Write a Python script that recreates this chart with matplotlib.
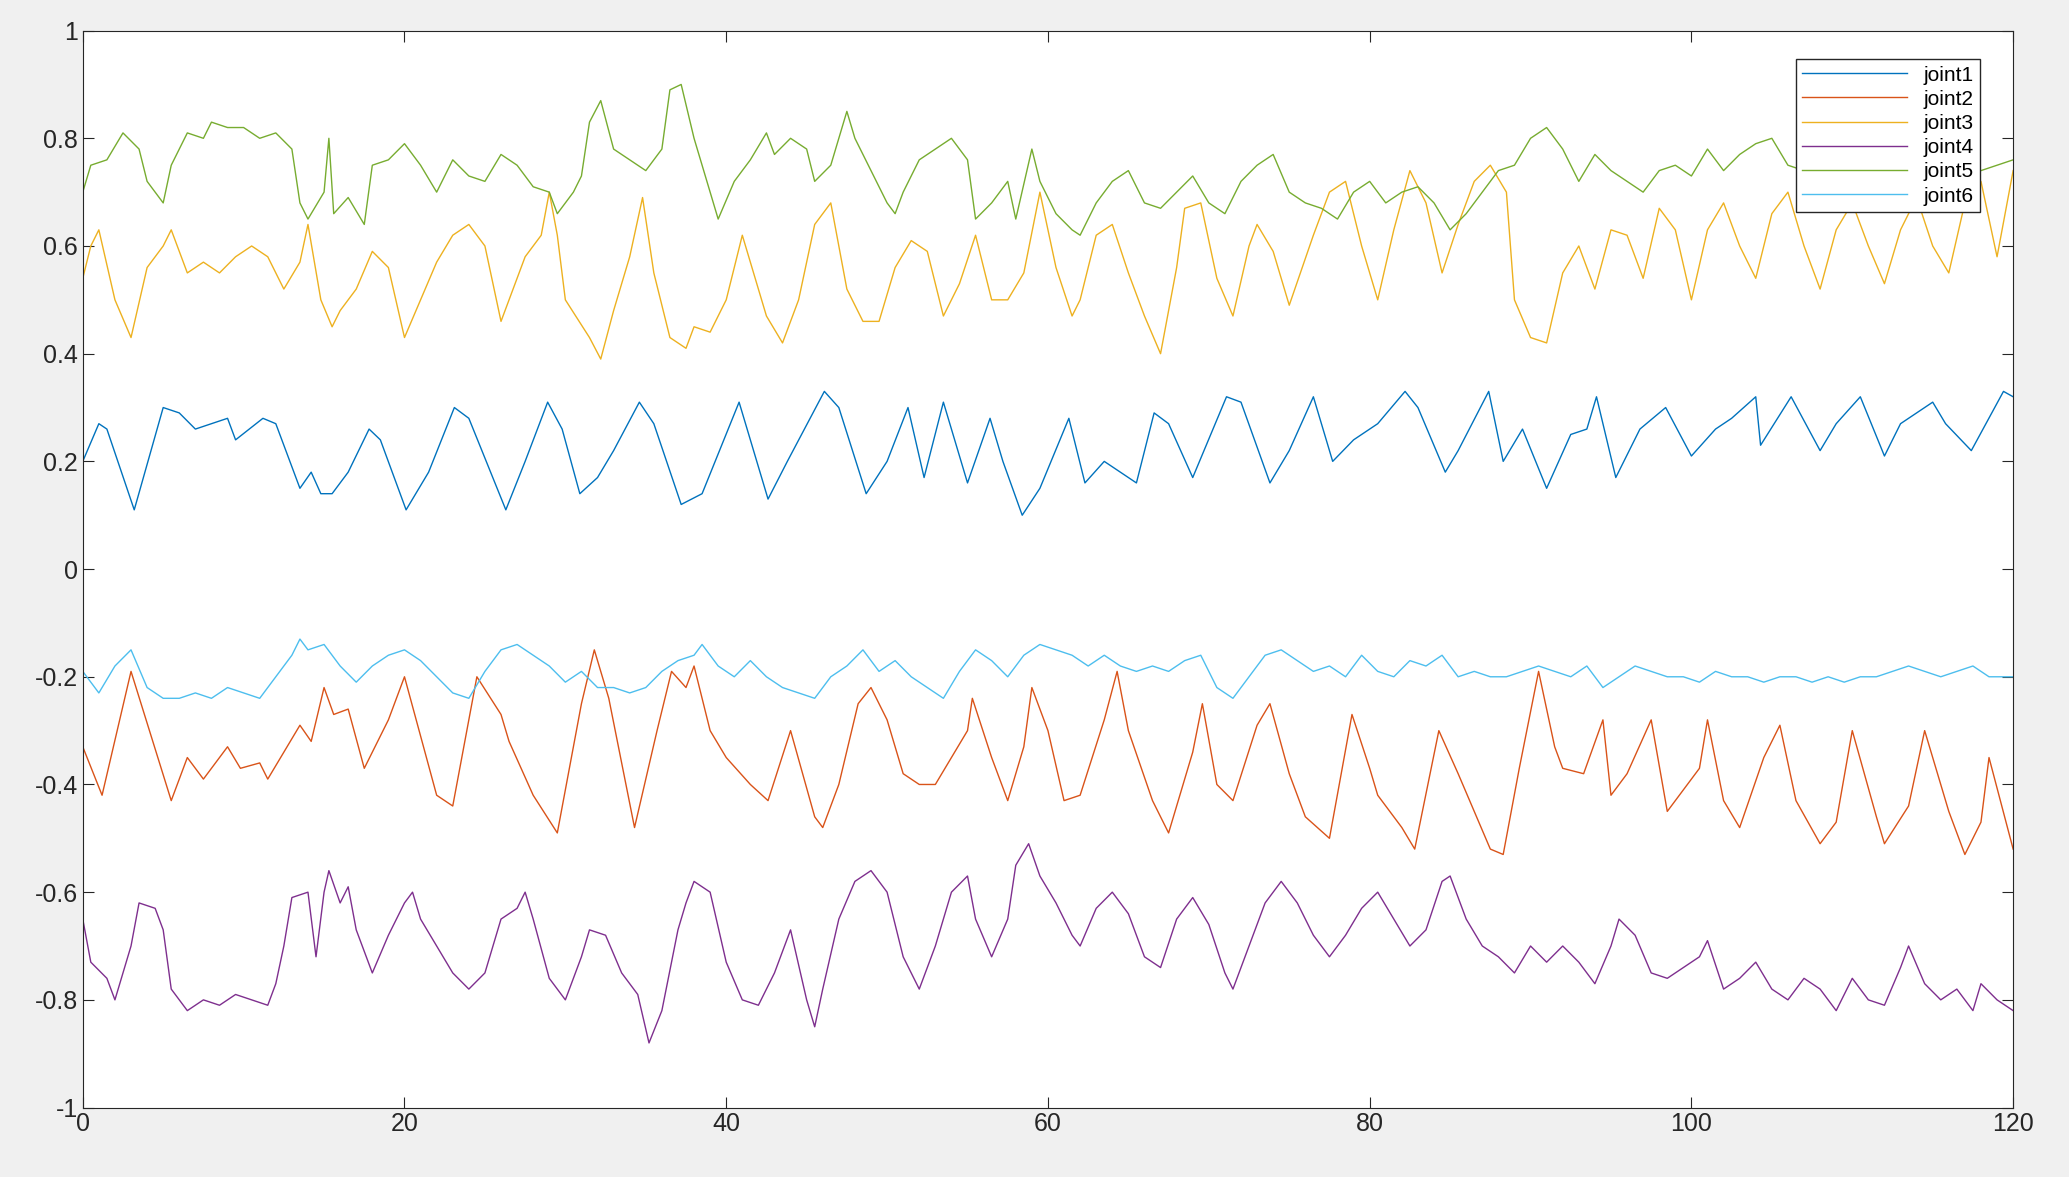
import matplotlib
matplotlib.use("Agg")
import matplotlib.pyplot as plt

plt.rcParams['font.family'] = ['Liberation Sans', 'DejaVu Sans']

j1 = [(0,0.2),(1,0.27),(1.5,0.26),(3.2,0.11),(5,0.3),(6,0.29),(7,0.26),(8,0.27),(9,0.28),(9.5,0.24),(11.2,0.28),(12,0.27),(13.5,0.15),(14.2,0.18),(14.8,0.14),(15.5,0.14),(16.5,0.18),(17.8,0.26),(18.5,0.24),(20.1,0.11),(21.5,0.18),(23.1,0.3),(24,0.28),(26.3,0.11),(27.5,0.2),(28.9,0.31),(29.8,0.26),(30.9,0.14),(32,0.17),(33,0.22),(34.6,0.31),(35.5,0.27),(37.2,0.12),(38.5,0.14),(40.8,0.31),(41.5,0.24),(42.6,0.13),(43.8,0.2),(46.1,0.33),(47,0.3),(48.7,0.14),(50,0.2),(51.3,0.3),(52.3,0.17),(53.5,0.31),(55,0.16),(56.4,0.28),(57.2,0.2),(58.4,0.10),(59.5,0.15),(61.3,0.28),(62.3,0.16),(63.5,0.2),(65.5,0.16),(66.6,0.29),(67.5,0.27),(69,0.17),(71.1,0.32),(72,0.31),(73.8,0.16),(75,0.22),(76.5,0.32),(77.7,0.2),(79,0.24),(80.5,0.27),(82.2,0.33),(83,0.3),(84.7,0.18),(85.5,0.22),(87.4,0.33),(88.3,0.2),(89.5,0.26),(91,0.15),(92.5,0.25),(93.5,0.26),(94.1,0.32),(95.3,0.17),(96.8,0.26),(98.4,0.3),(100,0.21),(101.5,0.26),(102.5,0.28),(104,0.32),(104.3,0.23),(106.2,0.32),(108,0.22),(109,0.27),(110.5,0.32),(112,0.21),(113,0.27),(115,0.31),(115.8,0.27),(117.4,0.22),(119.4,0.33),(120,0.32)]
j2 = [(0,-0.33),(1.2,-0.42),(3,-0.19),(5.5,-0.43),(6.5,-0.35),(7.5,-0.39),(9,-0.33),(9.8,-0.37),(11,-0.36),(11.5,-0.39),(13.5,-0.29),(14.2,-0.32),(15,-0.22),(15.6,-0.27),(16.5,-0.26),(17.5,-0.37),(19,-0.28),(20,-0.2),(22,-0.42),(23,-0.44),(24.5,-0.2),(26,-0.27),(26.5,-0.32),(28,-0.42),(29.5,-0.49),(31,-0.25),(31.8,-0.15),(32.7,-0.24),(34.3,-0.48),(35.7,-0.3),(36.6,-0.19),(37.5,-0.22),(38,-0.18),(39,-0.3),(40,-0.35),(41.5,-0.4),(42.6,-0.43),(44,-0.3),(45.5,-0.46),(46,-0.48),(47,-0.4),(48.2,-0.25),(49,-0.22),(50,-0.28),(51,-0.38),(52,-0.4),(53,-0.4),(55,-0.3),(55.3,-0.24),(56.5,-0.35),(57.5,-0.43),(58.5,-0.33),(59,-0.22),(60,-0.3),(61,-0.43),(62,-0.42),(63.5,-0.28),(64.3,-0.19),(65,-0.3),(66.5,-0.43),(67.5,-0.49),(69,-0.34),(69.6,-0.25),(70.5,-0.4),(71.5,-0.43),(73,-0.29),(73.8,-0.25),(75,-0.38),(76,-0.46),(77.5,-0.5),(78.9,-0.27),(80,-0.37),(80.5,-0.42),(82,-0.48),(82.8,-0.52),(84.3,-0.3),(85.5,-0.38),(87.5,-0.52),(88.3,-0.53),(89.3,-0.37),(90.5,-0.19),(91.5,-0.33),(92,-0.37),(93.3,-0.38),(94.5,-0.28),(95,-0.42),(96,-0.38),(97.5,-0.28),(98.5,-0.45),(99,-0.43),(100.5,-0.37),(101,-0.28),(102,-0.43),(103,-0.48),(104.5,-0.35),(105.5,-0.29),(106.5,-0.43),(108,-0.51),(109,-0.47),(110,-0.3),(111.5,-0.46),(112,-0.51),(113.5,-0.44),(114.5,-0.3),(116,-0.45),(117,-0.53),(118,-0.47),(118.5,-0.35),(120,-0.52)]
j3 = [(0,0.54),(0.5,0.6),(1,0.63),(2,0.5),(3,0.43),(4,0.56),(5,0.6),(5.5,0.63),(6.5,0.55),(7.5,0.57),(8.5,0.55),(9.5,0.58),(10.5,0.6),(11.5,0.58),(12.5,0.52),(13.5,0.57),(14,0.64),(14.8,0.5),(15.5,0.45),(16,0.48),(17,0.52),(18,0.59),(19,0.56),(20,0.43),(21,0.5),(22,0.57),(23,0.62),(24,0.64),(25,0.6),(26,0.46),(27.5,0.58),(28.5,0.62),(29,0.7),(29.5,0.62),(30,0.5),(31.5,0.43),(32.2,0.39),(33,0.48),(34,0.58),(34.8,0.69),(35.5,0.55),(36.5,0.43),(37.5,0.41),(38,0.45),(39,0.44),(40,0.5),(41,0.62),(42.5,0.47),(43.5,0.42),(44.5,0.5),(45.5,0.64),(46.5,0.68),(47.5,0.52),(48.5,0.46),(49.5,0.46),(50.5,0.56),(51.5,0.61),(52.5,0.59),(53.5,0.47),(54.5,0.53),(55.5,0.62),(56.5,0.5),(57.5,0.5),(58.5,0.55),(59.5,0.7),(60.5,0.56),(61.5,0.47),(62,0.5),(63,0.62),(64,0.64),(65,0.55),(66,0.47),(67,0.4),(68,0.56),(68.5,0.67),(69.5,0.68),(70.5,0.54),(71.5,0.47),(72.5,0.6),(73,0.64),(74,0.59),(75,0.49),(76.5,0.62),(77.5,0.7),(78.5,0.72),(79.5,0.6),(80.5,0.5),(81.5,0.63),(82.5,0.74),(83.5,0.68),(84.5,0.55),(85.5,0.64),(86.5,0.72),(87.5,0.75),(88.5,0.7),(89,0.5),(90,0.43),(91,0.42),(92,0.55),(93,0.6),(94,0.52),(95,0.63),(96,0.62),(97,0.54),(98,0.67),(99,0.63),(100,0.5),(101,0.63),(102,0.68),(103,0.6),(104,0.54),(105,0.66),(106,0.7),(107,0.6),(108,0.52),(109,0.63),(110,0.68),(111,0.6),(112,0.53),(113,0.63),(114,0.69),(115,0.6),(116,0.55),(117,0.68),(118,0.72),(119,0.58),(120,0.74)]
j4 = [(0,-0.65),(0.5,-0.73),(1.5,-0.76),(2,-0.8),(3,-0.7),(3.5,-0.62),(4.5,-0.63),(5,-0.67),(5.5,-0.78),(6,-0.8),(6.5,-0.82),(7.5,-0.8),(8.5,-0.81),(9.5,-0.79),(10.5,-0.8),(11.5,-0.81),(12,-0.77),(12.5,-0.7),(13,-0.61),(14,-0.6),(14.5,-0.72),(15,-0.6),(15.3,-0.56),(16,-0.62),(16.5,-0.59),(17,-0.67),(18,-0.75),(19,-0.68),(20,-0.62),(20.5,-0.6),(21,-0.65),(22,-0.7),(23,-0.75),(24,-0.78),(25,-0.75),(26,-0.65),(27,-0.63),(27.5,-0.6),(28,-0.65),(29,-0.76),(30,-0.8),(31,-0.72),(31.5,-0.67),(32.5,-0.68),(33.5,-0.75),(34.5,-0.79),(35.2,-0.88),(36,-0.82),(37,-0.67),(37.5,-0.62),(38,-0.58),(39,-0.6),(40,-0.73),(41,-0.8),(42,-0.81),(43,-0.75),(44,-0.67),(45,-0.8),(45.5,-0.85),(46,-0.78),(47,-0.65),(48,-0.58),(49,-0.56),(50,-0.6),(51,-0.72),(52,-0.78),(53,-0.7),(54,-0.6),(55,-0.57),(55.5,-0.65),(56.5,-0.72),(57.5,-0.65),(58,-0.55),(58.8,-0.51),(59.5,-0.57),(60.5,-0.62),(61.5,-0.68),(62,-0.7),(63,-0.63),(64,-0.6),(65,-0.64),(66,-0.72),(67,-0.74),(68,-0.65),(69,-0.61),(70,-0.66),(71,-0.75),(71.5,-0.78),(72.5,-0.7),(73.5,-0.62),(74.5,-0.58),(75.5,-0.62),(76.5,-0.68),(77.5,-0.72),(78.5,-0.68),(79.5,-0.63),(80.5,-0.6),(81.5,-0.65),(82.5,-0.7),(83.5,-0.67),(84.5,-0.58),(85,-0.57),(86,-0.65),(87,-0.7),(88,-0.72),(89,-0.75),(90,-0.7),(91,-0.73),(92,-0.7),(93,-0.73),(94,-0.77),(95,-0.7),(95.5,-0.65),(96.5,-0.68),(97.5,-0.75),(98.5,-0.76),(99.5,-0.74),(100.5,-0.72),(101,-0.69),(102,-0.78),(103,-0.76),(104,-0.73),(105,-0.78),(106,-0.8),(107,-0.76),(108,-0.78),(109,-0.82),(110,-0.76),(111,-0.8),(112,-0.81),(113,-0.74),(113.5,-0.7),(114.5,-0.77),(115.5,-0.8),(116.5,-0.78),(117.5,-0.82),(118,-0.77),(119,-0.8),(120,-0.82)]
j5 = [(0,0.7),(0.5,0.75),(1.5,0.76),(2.5,0.81),(3.5,0.78),(4,0.72),(5,0.68),(5.5,0.75),(6.5,0.81),(7.5,0.8),(8,0.83),(9,0.82),(10,0.82),(11,0.8),(12,0.81),(13,0.78),(13.5,0.68),(14,0.65),(15,0.7),(15.3,0.8),(15.6,0.66),(16.5,0.69),(17.5,0.64),(18,0.75),(19,0.76),(20,0.79),(21,0.75),(22,0.7),(23,0.76),(24,0.73),(25,0.72),(26,0.77),(27,0.75),(28,0.71),(29,0.7),(29.5,0.66),(30.5,0.7),(31,0.73),(31.5,0.83),(32.2,0.87),(33,0.78),(34,0.76),(35,0.74),(36,0.78),(36.5,0.89),(37.2,0.9),(38,0.8),(39,0.7),(39.5,0.65),(40.5,0.72),(41.5,0.76),(42.5,0.81),(43,0.77),(44,0.8),(45,0.78),(45.5,0.72),(46.5,0.75),(47.5,0.85),(48,0.8),(49,0.74),(50,0.68),(50.5,0.66),(51,0.7),(52,0.76),(53,0.78),(54,0.8),(55,0.76),(55.5,0.65),(56.5,0.68),(57.5,0.72),(58,0.65),(59,0.78),(59.5,0.72),(60.5,0.66),(61.5,0.63),(62,0.62),(63,0.68),(64,0.72),(65,0.74),(66,0.68),(67,0.67),(68,0.7),(69,0.73),(70,0.68),(71,0.66),(72,0.72),(73,0.75),(74,0.77),(75,0.7),(76,0.68),(77,0.67),(78,0.65),(79,0.7),(80,0.72),(81,0.68),(82,0.7),(83,0.71),(84,0.68),(85,0.63),(86,0.66),(87,0.7),(88,0.74),(89,0.75),(90,0.8),(91,0.82),(92,0.78),(93,0.72),(94,0.77),(95,0.74),(96,0.72),(97,0.7),(98,0.74),(99,0.75),(100,0.73),(101,0.78),(102,0.74),(103,0.77),(104,0.79),(105,0.8),(106,0.75),(107,0.74),(108,0.75),(109,0.74),(110,0.73),(111,0.74),(112,0.75),(113,0.74),(114,0.78),(115,0.73),(116,0.72),(117,0.73),(118,0.74),(119,0.75),(120,0.76)]
j6 = [(0,-0.19),(1,-0.23),(2,-0.18),(3,-0.15),(4,-0.22),(5,-0.24),(6,-0.24),(7,-0.23),(8,-0.24),(9,-0.22),(10,-0.23),(11,-0.24),(12,-0.2),(13,-0.16),(13.5,-0.13),(14,-0.15),(15,-0.14),(16,-0.18),(17,-0.21),(18,-0.18),(19,-0.16),(20,-0.15),(21,-0.17),(22,-0.2),(23,-0.23),(24,-0.24),(25,-0.19),(26,-0.15),(27,-0.14),(28,-0.16),(29,-0.18),(30,-0.21),(31,-0.19),(32,-0.22),(33,-0.22),(34,-0.23),(35,-0.22),(36,-0.19),(37,-0.17),(38,-0.16),(38.5,-0.14),(39.5,-0.18),(40.5,-0.2),(41.5,-0.17),(42.5,-0.2),(43.5,-0.22),(44.5,-0.23),(45.5,-0.24),(46.5,-0.2),(47.5,-0.18),(48.5,-0.15),(49.5,-0.19),(50.5,-0.17),(51.5,-0.2),(52.5,-0.22),(53.5,-0.24),(54.5,-0.19),(55.5,-0.15),(56.5,-0.17),(57.5,-0.2),(58.5,-0.16),(59.5,-0.14),(60.5,-0.15),(61.5,-0.16),(62.5,-0.18),(63.5,-0.16),(64.5,-0.18),(65.5,-0.19),(66.5,-0.18),(67.5,-0.19),(68.5,-0.17),(69.5,-0.16),(70.5,-0.22),(71.5,-0.24),(72.5,-0.2),(73.5,-0.16),(74.5,-0.15),(75.5,-0.17),(76.5,-0.19),(77.5,-0.18),(78.5,-0.2),(79.5,-0.16),(80.5,-0.19),(81.5,-0.2),(82.5,-0.17),(83.5,-0.18),(84.5,-0.16),(85.5,-0.2),(86.5,-0.19),(87.5,-0.2),(88.5,-0.2),(89.5,-0.19),(90.5,-0.18),(91.5,-0.19),(92.5,-0.2),(93.5,-0.18),(94.5,-0.22),(95.5,-0.2),(96.5,-0.18),(97.5,-0.19),(98.5,-0.2),(99.5,-0.2),(100.5,-0.21),(101.5,-0.19),(102.5,-0.2),(103.5,-0.2),(104.5,-0.21),(105.5,-0.2),(106.5,-0.2),(107.5,-0.21),(108.5,-0.2),(109.5,-0.21),(110.5,-0.2),(111.5,-0.2),(112.5,-0.19),(113.5,-0.18),(114.5,-0.19),(115.5,-0.2),(116.5,-0.19),(117.5,-0.18),(118.5,-0.2),(119.5,-0.2),(120,-0.2)]

series = [j1, j2, j3, j4, j5, j6]
names = ["joint1", "joint2", "joint3", "joint4", "joint5", "joint6"]
colors = ["#0072BD", "#D95319", "#EDB120", "#7E2F8E", "#77AC30", "#4DBEEE"]
xticks = [0, 20, 40, 60, 80, 100, 120]
yticks = [-1, -0.8, -0.6, -0.4, -0.2, 0, 0.2, 0.4, 0.6, 0.8, 1]
ytick_labels = ["-1", "-0.8", "-0.6", "-0.4", "-0.2", "0", "0.2", "0.4", "0.6", "0.8", "1"]

fig = plt.figure(figsize=(20.69, 11.77), dpi=100, facecolor="#f0f0f0")
ax = fig.add_axes([0.040, 0.059, 0.933, 0.915])
for s, n, c in zip(series, names, colors):
    ax.plot([p[0] for p in s], [p[1] for p in s], color=c, lw=1.0, label=n)
ax.set_xlim(0, 120)
ax.set_ylim(-1, 1)
ax.set_xticks(xticks)
ax.set_yticks(yticks)
ax.set_yticklabels(ytick_labels)
ax.tick_params(direction="in", top=True, right=True, labelsize=18, length=8, color="#262626", labelcolor="#262626")
for sp in ax.spines.values():
    sp.set_color("#262626")
leg = ax.legend(loc="upper right", bbox_to_anchor=(0.988, 0.983), fontsize=15, handlelength=5.0,
                fancybox=False, edgecolor="#262626", framealpha=1, borderpad=0.3, labelspacing=0.25)
fig.savefig("out.png", dpi=100, facecolor=fig.get_facecolor())
